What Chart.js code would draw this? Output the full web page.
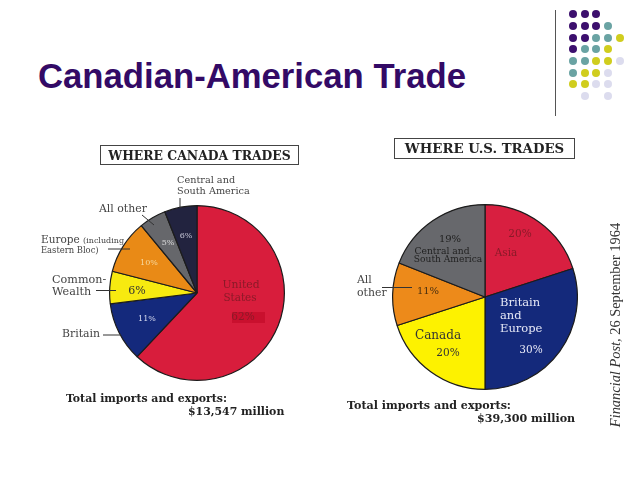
<!DOCTYPE html>
<html>
<head>
<meta charset="utf-8">
<script src="https://cdn.jsdelivr.net/npm/chart.js@4"></script>
<style>
  html, body { margin: 0; padding: 0; background: #fff; }
  #page { position: relative; width: 638px; height: 478px; overflow: hidden; background: #fff; font-family: "DejaVu Serif", serif; }
  #page canvas { position: absolute; filter: blur(0.3px); }
  .t { position: absolute; white-space: nowrap; line-height: 1; transform: translateY(-50%); color: #444; font-size: 10.9px; filter: blur(0.25px); }
  .c { transform: translate(-50%, -50%); }
  .box { position: absolute; box-sizing: border-box; border: 1.5px solid #444; display: flex; align-items: center; justify-content: center; font-weight: bold; color: #222; white-space: nowrap; }
  .total { font-weight: bold; font-size: 10.9px; color: #222; }
  .dot { position: absolute; width: 8px; height: 8px; border-radius: 50%; }
  #title { position: absolute; left: 38px; top: 57px; font: bold 34.7px "Liberation Sans", Arial, sans-serif; color: #330a66; white-space: nowrap; }
  #rule { position: absolute; left: 555px; top: 10px; width: 1px; height: 106px; background: #555; }
  #source { position: absolute; left: 614.5px; top: 325px; transform: translate(-50%, -50%) rotate(-90deg); font: 14.4px "Liberation Serif", serif; color: #333; white-space: nowrap; }
  #leaders { position: absolute; left: 0; top: 0; }
  #tint { position: absolute; left: 232px; top: 312px; width: 33px; height: 11px; background: #c9102e; }
</style>
</head>
<body>
<div id="page">
  <div id="title">Canadian-American Trade</div>
  <div id="rule"></div>
  <canvas id="pieCanada"></canvas>
  <canvas id="pieUS"></canvas>
  <div id="tint"></div>
  <svg id="leaders" width="638" height="478" stroke="#333" stroke-width="1">
    <line x1="180" y1="198" x2="180" y2="208"/>
    <line x1="142" y1="215" x2="154" y2="225"/>
    <line x1="108" y1="249" x2="130" y2="249"/>
    <line x1="96" y1="290.5" x2="116" y2="290.5"/>
    <line x1="103" y1="335" x2="121" y2="335"/>
    <line x1="382" y1="287.5" x2="412" y2="287.5"/>
  </svg>
  <div class="box" style="left:100px;top:145px;width:199px;height:20px;font-size:12.4px">WHERE CANADA TRADES</div>
  <div class="box" style="left:394px;top:138px;width:181px;height:21px;font-size:13.3px">WHERE U.S. TRADES</div>
  <div id="source"><i>Financial Post,</i> 26 September 1964</div>
</div>
<script>
// slices go clockwise from 12 o'clock, same order as the printed charts
const canadaLabels = ['United States', 'Britain', 'Commonwealth', 'Europe', 'All other', 'Central and South America'];
const canadaValues = [62, 11, 6, 10, 5, 6];
const canadaColors = ['#d81d3c', '#14297c', '#f7ea10', '#e98a16', '#66676b', '#22233f'];

const usLabels = ['Asia', 'Britain and Europe', 'Canada', 'All other', 'Central and South America'];
const usValues = [20, 30, 20, 11, 19];
const usColors = ['#d81f40', '#14297b', '#fdf200', '#ed8a1a', '#67686c'];

const canadaTotal = '$13,547 million';
const usTotal = '$39,300 million';

// corner decoration, one string per row
const dotRows = ['PPP', 'PPPT', 'PPTTY', 'PTTY', 'TTYYL', 'TYYL', 'YYLL', ' L L'];
const dotColors = { P: '#3c0f6e', T: '#6aa3a3', Y: '#d0cd1e', L: '#dcdcee' };

const page = document.getElementById('page');

function addText(text, x, y, css, cls) {
    const el = document.createElement('div');
    el.className = 't ' + (cls || '');
    el.style.cssText = 'left:' + x + 'px;top:' + y + 'px;' + (css || '');
    el.innerHTML = text;
    page.appendChild(el);
}

function pct(v) {
    return v + '%';
}

function criarPie(id, cx, cy, r, labels, values, colors) {
    const canvas = document.getElementById(id);
    const size = 2 * r + 2;
    canvas.style.left = (cx - size / 2) + 'px';
    canvas.style.top = (cy - size / 2) + 'px';
    canvas.style.width = size + 'px';
    canvas.style.height = size + 'px';
    canvas.width = size;
    canvas.height = size;
    new Chart(canvas.getContext('2d'), {
        type: 'pie',
        data: {
            labels: labels,
            datasets: [{
                data: values,
                backgroundColor: colors,
                borderColor: '#1c1c1c',
                borderWidth: 1.2
            }]
        },
        options: {
            responsive: false,
            animation: false,
            layout: { padding: 0 },
            plugins: { legend: { display: false }, tooltip: { enabled: false } }
        }
    });
}

criarPie('pieCanada', 197, 293, 87, canadaLabels, canadaValues, canadaColors);
criarPie('pieUS', 485, 297, 92, usLabels, usValues, usColors);

dotRows.forEach((row, j) => {
    row.split('').forEach((k, i) => {
        if (k === ' ') return;
        const d = document.createElement('div');
        d.className = 'dot';
        d.style.left = (569 + i * 11.67) + 'px';
        d.style.top = (10.3 + j * 11.67) + 'px';
        d.style.background = dotColors[k];
        page.appendChild(d);
    });
});

// Canada labels
addText('Central and', 177, 180, 'font-size:9.7px');
addText('South America', 177, 191, 'font-size:9.7px');
addText('All other', 99, 209);
addText('Europe <span style="font-size:8px">(including</span>', 41, 239, 'font-size:10.5px');
addText('Eastern Bloc)', 41, 250, 'font-size:8.4px');
addText('Common-', 52, 280, 'font-size:11.2px');
addText('Wealth', 52, 292, 'font-size:11.2px');
addText('Britain', 62, 334);
addText(pct(canadaValues[5]), 186, 236, 'color:#c8c8d8;font-size:8px', 'c');
addText(pct(canadaValues[4]), 168, 243, 'color:#ddd;font-size:8px', 'c');
addText(pct(canadaValues[3]), 149, 263, 'color:#f6d9a0;font-size:8px', 'c');
addText(pct(canadaValues[2]), 137, 290, 'color:#333;font-size:11px', 'c');
addText(pct(canadaValues[1]), 147, 319, 'color:#d8dcf0;font-size:8px', 'c');
addText('United', 241, 285, 'color:#8a1a28;font-size:10.8px', 'c');
addText('States', 240, 297, 'color:#8a1a28;font-size:10.4px', 'c');
addText(pct(canadaValues[0]), 243, 316, 'color:#8a1a28;font-size:10.5px', 'c');
addText('Total imports and exports:', 66, 399, '', 'total');
addText(canadaTotal, 188, 412, '', 'total');

// US labels
addText('All', 357, 280);
addText('other', 357, 293);
addText(pct(usValues[4]), 450, 239, 'color:#222;font-size:10px', 'c');
addText('Central and', 442, 250.5, 'color:#222;font-size:9.2px', 'c');
addText('South America', 448, 260, 'color:#222;font-size:9.1px', 'c');
addText(pct(usValues[0]), 520, 233, 'color:#8a1a28;font-size:10.5px', 'c');
addText('Asia', 506, 252, 'color:#8a1a28;font-size:10.5px', 'c');
addText('Britain', 500, 302.5, 'color:#e6e8f6;font-size:11.5px');
addText('and', 500, 316, 'color:#e6e8f6;font-size:11.5px');
addText('Europe', 500, 329, 'color:#e6e8f6;font-size:11.5px');
addText(pct(usValues[1]), 531, 349, 'color:#e6e8f6;font-size:10.5px', 'c');
addText('Canada', 415, 335, 'color:#333;font-size:12px');
addText(pct(usValues[2]), 448, 352, 'color:#333;font-size:10.5px', 'c');
addText(pct(usValues[3]), 428, 291, 'color:#4a3010;font-size:10px', 'c');
addText('Total imports and exports:', 347, 406, 'font-size:11.1px', 'total');
addText(usTotal, 477, 419, 'font-size:11.1px', 'total');
</script>
</body>
</html>
